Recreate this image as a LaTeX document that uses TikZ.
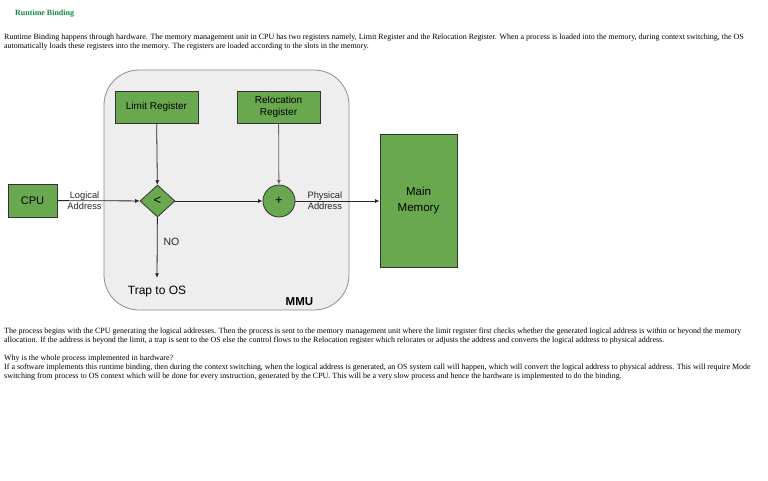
\documentclass[tikz,border=0pt]{standalone}
\usepackage{fontspec}
\setmainfont{Liberation Serif}
\setsansfont{Liberation Sans}
\usetikzlibrary{arrows.meta,shapes.geometric,positioning}
\definecolor{boxgreen}{HTML}{6AA84F}
\definecolor{titlegreen}{HTML}{0B8A3C}
\definecolor{mmugray}{HTML}{EEEEEE}
\newcommand{\sz}[1]{\fontsize{#1}{1.15\dimexpr#1pt\relax}\selectfont}

\begin{document}
\begin{tikzpicture}[x=1pt,y=-1pt,>={Latex[length=4.5pt,width=4pt]},
  greenbox/.style={draw=black!80,fill=boxgreen,line width=0.8pt,font=\sffamily\sz{10},align=center,inner sep=0pt},
  lbl/.style={font=\sffamily\sz{9.3},align=center,text=black!85,inner sep=0pt},
  flow/.style={->,draw=black!85,line width=0.8pt},
  bodytext/.style={font=\sz{7.97},anchor=base west,inner sep=0pt}]
  \useasboundingbox (0,0) rectangle (768,480);
  % Heading and first paragraph
  \node[font=\bfseries\sz{8},text=titlegreen,anchor=base west,inner sep=0pt] (title) at (15,15) {Runtime Binding};
  \foreach \txt [count=\i] in {%
    {Runtime Binding happens through hardware. The memory management unit in CPU has two registers namely, Limit Register and the Relocation Register. When a process is loaded into the memory, during context switching, the OS},
    {automatically loads these registers into the memory. The registers are loaded according to the slots in the memory.}}
    \node[bodytext] (top\i) at (4,{30.5+9*\i}) {\txt};

  % MMU block
  \node[draw=black!45,fill=mmugray,rounded corners=35pt,line width=0.8pt,minimum width=245pt,minimum height=240pt] (mmu) at (226.5,190) {};
  \node[font=\sffamily\bfseries\sz{11.5},inner sep=0pt] (mmulbl) at ([xshift=-50pt,yshift=9pt]mmu.south east) {MMU};

  \node[greenbox,minimum width=83pt,minimum height=32pt] (limit) at (156.5,107) {Limit Register};
  \node[greenbox,minimum width=83pt,minimum height=32pt] (reloc) at (278.5,107) {Relocation\\[1pt]Register};
  \node[greenbox,diamond,minimum width=35pt,minimum height=32pt,font=\sffamily\sz{13}] (cmp) at (157.5,201) {<};
  \node[greenbox,circle,minimum size=32pt,font=\sffamily\sz{13}] (add) at (279,201) {+};
  \node[font=\sffamily\sz{12},inner sep=0pt] (trap) at (157,291.5) {Trap to OS};

  % outside blocks
  \node[greenbox,minimum width=49pt,minimum height=33pt,font=\sffamily\sz{11}] (cpu) at (32.5,200.5) {CPU};
  \node[greenbox,minimum width=77pt,minimum height=133pt,font=\sffamily\sz{11.5}] (mem) at (418.5,200.5) {Main\\[2pt]Memory};

  % connectors
  \draw[flow] (cpu) -- (cmp) node[lbl,pos=0.33] {Logical\\Address};
  \draw[flow] (limit) -- (cmp);
  \draw[flow] (cmp) -- (add);
  \draw[flow,draw=black!60] (reloc) -- (add);
  \draw[flow] (add) -- (mem.west |- add) node[lbl,pos=0.35] {Physical\\Address};
  \draw[flow] (cmp) -- ([yshift=8pt]trap.north) node[lbl,font=\sffamily\sz{10.5},right=6pt,pos=0.41] {NO};

  % second paragraph
  \foreach \txt [count=\i] in {%
    {The process begins with the CPU generating the logical addresses. Then the process is sent to the memory management unit where the limit register first checks whether the generated logical address is within or beyond the memory},
    {allocation. If the address is beyond the limit, a trap is sent to the OS else the control flows to the Relocation register which relocates or adjusts the address and converts the logical address to physical address.},
    {},
    {Why is the whole process implemented in hardware?},
    {If a software implements this runtime binding, then during the context switching, when the logical address is generated, an OS system call will happen, which will convert the logical address to physical address. This will require Mode},
    {switching from process to OS context which will be done for every instruction, generated by the CPU. This will be a very slow process and hence the hardware is implemented to do the binding.}}
    \node[bodytext] (bot\i) at (4,{324.5+9*\i}) {\txt};
\end{tikzpicture}
\end{document}
